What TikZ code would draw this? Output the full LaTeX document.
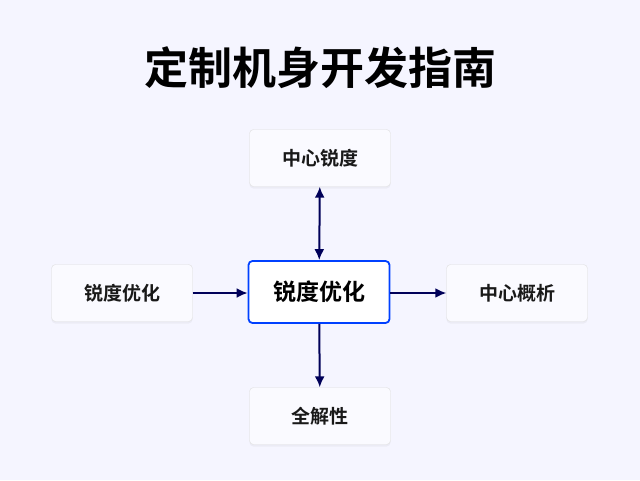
\documentclass[tikz,border=0pt]{standalone}
\usepackage{fontspec}
\newfontfamily\cjk{Noto Sans CJK SC}[BoldFont={* Bold}]
\newfontfamily\cjkm{Noto Sans CJK SC Medium}
\usetikzlibrary{arrows.meta,shadows}
\begin{document}
\begin{tikzpicture}[x=1pt,y=-1pt,
  box/.style={draw=gray!25,fill=white,rounded corners=4pt,minimum width=141pt,minimum height=57pt,font=\cjk\bfseries\fontsize{19}{22}\selectfont,text=black!90,drop shadow={opacity=0.08,shadow xshift=0pt,shadow yshift=-2pt}},
  main/.style={draw=blue!75!cyan,line width=1.8pt,fill=white,rounded corners=4pt,minimum width=141pt,minimum height=62pt,font=\cjk\bfseries\fontsize{23}{26}\selectfont},
  arr/.style={-{Latex[length=11pt,width=10pt]},draw=blue!35!black,line width=2pt}]
\fill[white!96!blue] (0,0) rectangle (640,480);
\node[font=\cjk\bfseries\fontsize{44}{50}\selectfont] (t) at (320,68) {定制机身开发指南};
\node[box,fill=white!98!blue] (top) at (320,158) {中心锐度};
\node[box,fill=white!98!blue] (l) at (122,293) {锐度优化};
\node[main] (c) at (319,292) {锐度优化};
\node[box,fill=white!98!blue] (r) at (517,293) {中心概析};
\node[box,fill=white!98!blue] (b) at (320,416) {全解性};
\draw[arr,{Latex[length=11pt,width=10pt]}-{Latex[length=11pt,width=10pt]}] (top) -- (c);
\draw[arr] (l.east) -- (c.west |- l.east);
\draw[arr] (c.east |- r.west) -- (r.west);
\draw[arr] (c) -- (b);
\end{tikzpicture}
\end{document}
